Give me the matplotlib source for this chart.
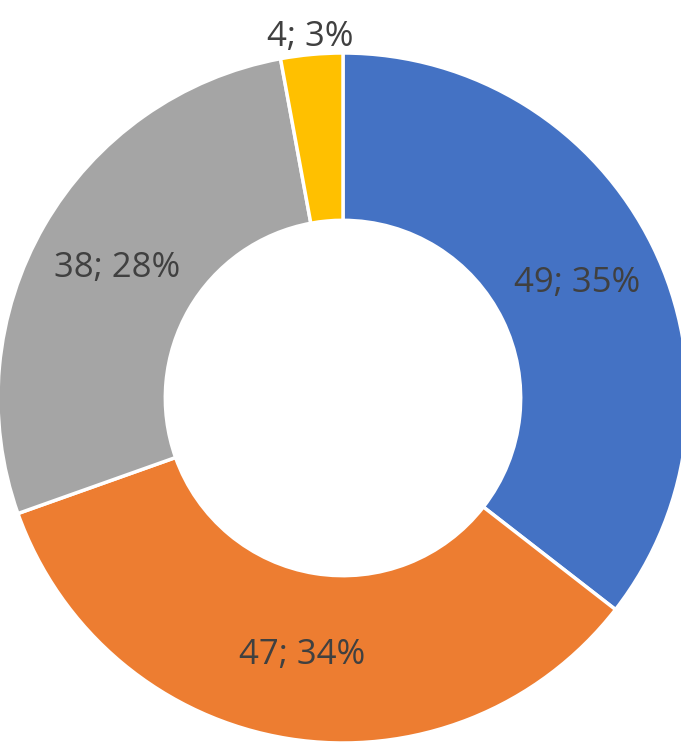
import matplotlib
matplotlib.use('Agg')
from matplotlib import pyplot as plt
import numpy as np

values = [49, 47, 38, 4]
percents = [35, 34, 28, 3]
colors = ['#4472C4', '#ED7D31', '#A5A5A5', '#FFC000']

fig = plt.figure(figsize=(6.81, 7.54), dpi=100)
# donut centre at (343, 398) px, outer radius 345 px
ax = fig.add_axes([(343 - 345) / 681, (754 - 398 - 345) / 754, 690 / 681, 690 / 754])

wedges, _ = ax.pie(values, colors=colors, startangle=90, counterclock=False,
                   radius=1, wedgeprops=dict(width=0.485, edgecolor='white', linewidth=2.5))
ax.set_xlim(-1, 1)
ax.set_ylim(-1, 1)
ax.set_aspect('equal')
ax.axis('off')

labels = [f"{v}; {p}%" for v, p in zip(values, percents)]
total = sum(values)
angle = 90
for w, lab, v in zip(wedges, labels, values):
    span = v / total * 360
    mid = np.deg2rad(angle - span / 2)
    r = 0.755 if v > 10 else 1.05
    ax.text(r * np.cos(mid), r * np.sin(mid), lab, ha='center', va='center',
            fontsize=25, color='#404040', family='Open Sans', clip_on=False)
    angle -= span

fig.savefig('out.png')
